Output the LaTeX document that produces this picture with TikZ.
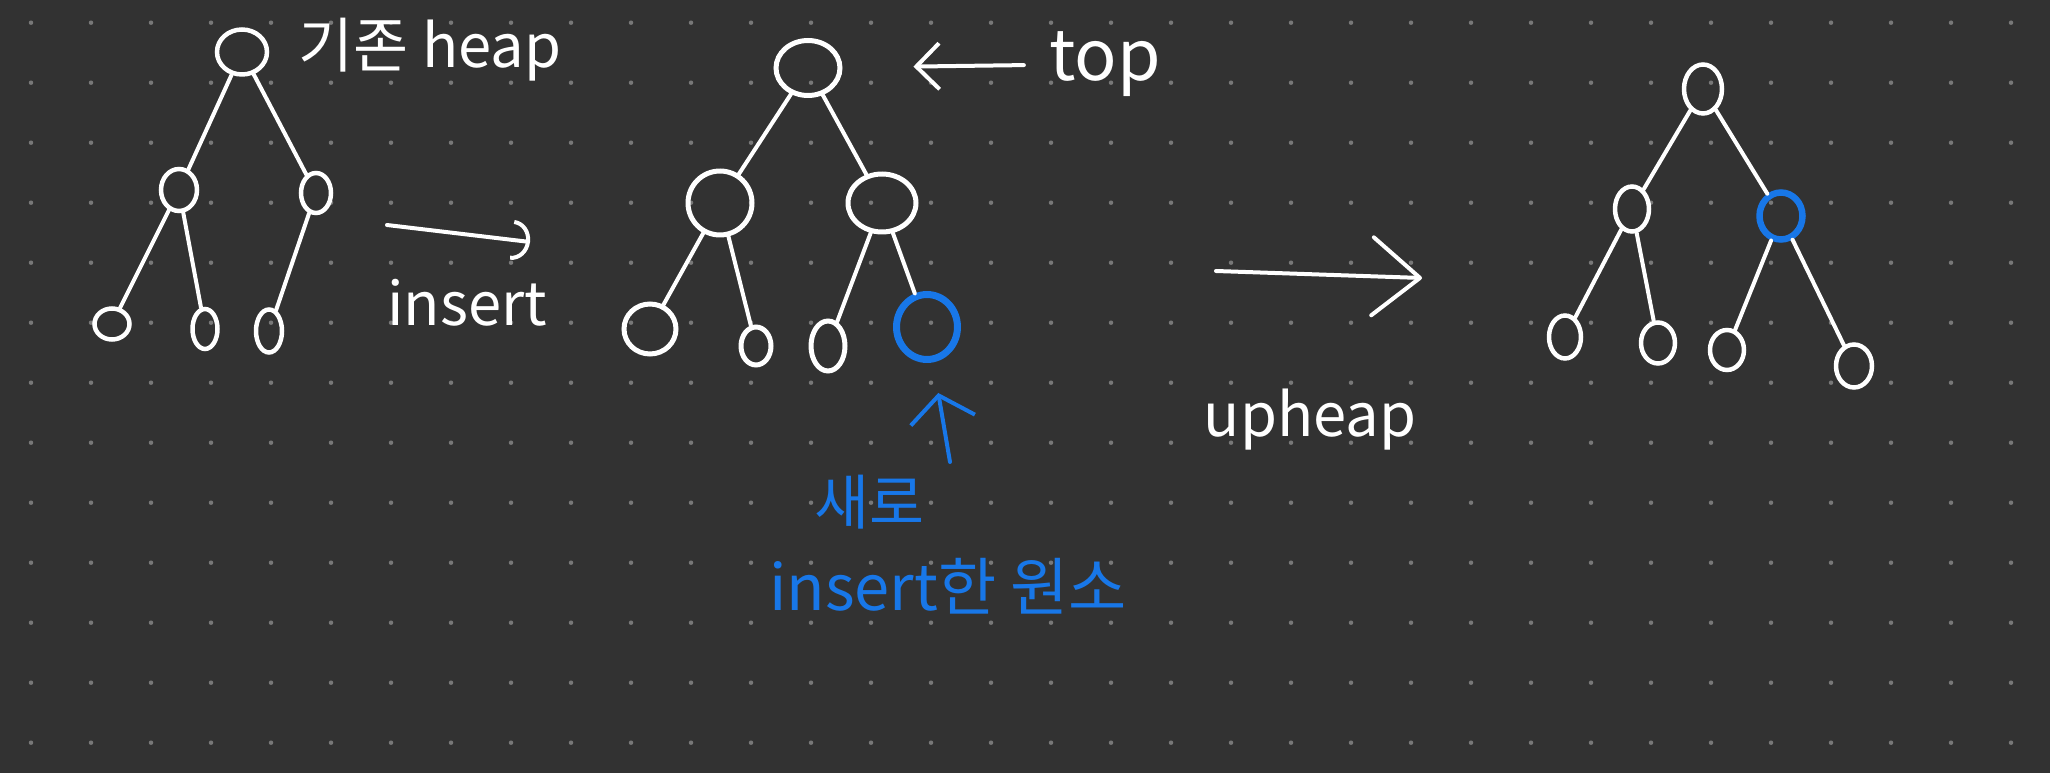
\documentclass[tikz,border=0pt]{standalone}
\usepackage{fontspec}
\setmainfont{Noto Sans CJK KR}
\usetikzlibrary{arrows.meta,shapes.geometric}
\definecolor{board}{HTML}{323232}
\definecolor{griddot}{HTML}{787878}
\definecolor{pen}{HTML}{1877E8}

\begin{document}
\begin{tikzpicture}[x=0.02cm,y=-0.02cm,line cap=round]
\fill[board] (0,0) rectangle (2050,773);
\foreach \i in {0,...,33}
  \foreach \j in {0,...,12}
    \fill[griddot] (31+60*\i,22.7+60*\j) circle (0.045cm);
\useasboundingbox (0,0) rectangle (2050,773);

% heap before insert
\begin{scope}[every node/.style={ellipse,draw=white,line width=0.09cm,inner sep=0pt}]
    \node[minimum width=1cm,minimum height=0.9cm] (A) at (242,52) {};
    \node[minimum width=0.72cm,minimum height=0.84cm] (B) at (179,190) {};
    \node[minimum width=0.6cm,minimum height=0.8cm] (C) at (316,193) {};
    \node[minimum width=0.7cm,minimum height=0.62cm] (D) at (112,324) {};
    \node[minimum width=0.5cm,minimum height=0.8cm] (E) at (205,329) {};
    \node[minimum width=0.52cm,minimum height=0.86cm] (F) at (269,331) {};
\end{scope}

% heap after insert
\begin{scope}[every node/.style={ellipse,draw=white,line width=0.1cm,inner sep=0pt}]
    \node[minimum width=1.28cm,minimum height=1.1cm] (A2) at (808,68) {};
    \node[minimum width=1.28cm,minimum height=1.28cm] (B2) at (720,203) {};
    \node[minimum width=1.36cm,minimum height=1.16cm] (C2) at (882,203) {};
    \node[minimum width=1.04cm,minimum height=1.0cm] (D2) at (650,329) {};
    \node[minimum width=0.6cm,minimum height=0.76cm] (E2) at (756,346) {};
    \node[minimum width=0.68cm,minimum height=1.0cm] (F2) at (828,346) {};
    \node[draw=pen,line width=0.14cm,minimum width=1.22cm,minimum height=1.3cm] (G2) at (927,327) {};
\end{scope}

% heap after upheap
\begin{scope}[every node/.style={ellipse,draw=white,line width=0.09cm,inner sep=0pt}]
    \node[minimum width=0.76cm,minimum height=0.98cm] (A3) at (1703,89) {};
    \node[minimum width=0.68cm,minimum height=0.9cm] (B3) at (1632,209) {};
    \node[draw=pen,line width=0.13cm,minimum width=0.86cm,minimum height=0.94cm] (C3) at (1781,216) {};
    \node[minimum width=0.64cm,minimum height=0.86cm] (D3) at (1565,337) {};
    \node[minimum width=0.68cm,minimum height=0.82cm] (E3) at (1658,343) {};
    \node[minimum width=0.68cm,minimum height=0.8cm] (F3) at (1727,350) {};
    \node[minimum width=0.72cm,minimum height=0.86cm] (G3) at (1854,366) {};
\end{scope}

\begin{scope}[every node/.style={text=white,inner sep=0pt,font=\fontsize{34}{40}\selectfont}]
    \node (L1) at (430,50) {기존 heap};
    \node (L2) at (467,303) {insert};
    \node[font=\fontsize{40}{46}\selectfont] (T) at (1105,64) {top};
    \node (L3) at (1310,420) {upheap};
    \node[text=pen] (N1) at (869,502) {새로};
    \node[text=pen,font=\fontsize{36}{42}\selectfont] (N2) at (948,586) {insert한 원소};
\end{scope}

\coordinate (i1) at (387,225);
\coordinate (i2) at (530,242);
\coordinate (u1) at (1216,271);
\coordinate (u2) at (1422,278);
\coordinate (b1) at (950,462);

\begin{scope}[every edge/.style={draw=white,line width=0.08cm}]
    \path [-] (A) edge (B);
    \path [-] (A) edge (C);
    \path [-] (B) edge (D);
    \path [-] (B) edge (E);
    \path [-] (C) edge (F);
    \path [-] (A2) edge (B2);
    \path [-] (A2) edge (C2);
    \path [-] (B2) edge (D2);
    \path [-] (B2) edge (E2);
    \path [-] (C2) edge (F2);
    \path [-] (C2) edge (G2);
    \path [-] (A3) edge (B3);
    \path [-] (A3) edge (C3);
    \path [-] (B3) edge (D3);
    \path [-] (B3) edge (E3);
    \path [-] (C3) edge (F3);
    \path [-] (C3) edge (G3);
    \path [-{Arc Barb[length=0.36cm,width=0.8cm]}] (i1) edge (i2);
    \path [-{Straight Barb[round,length=0.95cm,width=1.56cm]}] (u1) edge (u2);
    \path [-{Straight Barb[length=0.46cm,width=0.92cm]},shorten <=0.5cm,shorten >=1.42cm] (T) edge (A2);
    \path [-{Straight Barb[length=0.5cm,width=1.3cm]},shorten >=0.62cm] (b1) edge[draw=pen] (G2);
\end{scope}
\end{tikzpicture}
\end{document}
